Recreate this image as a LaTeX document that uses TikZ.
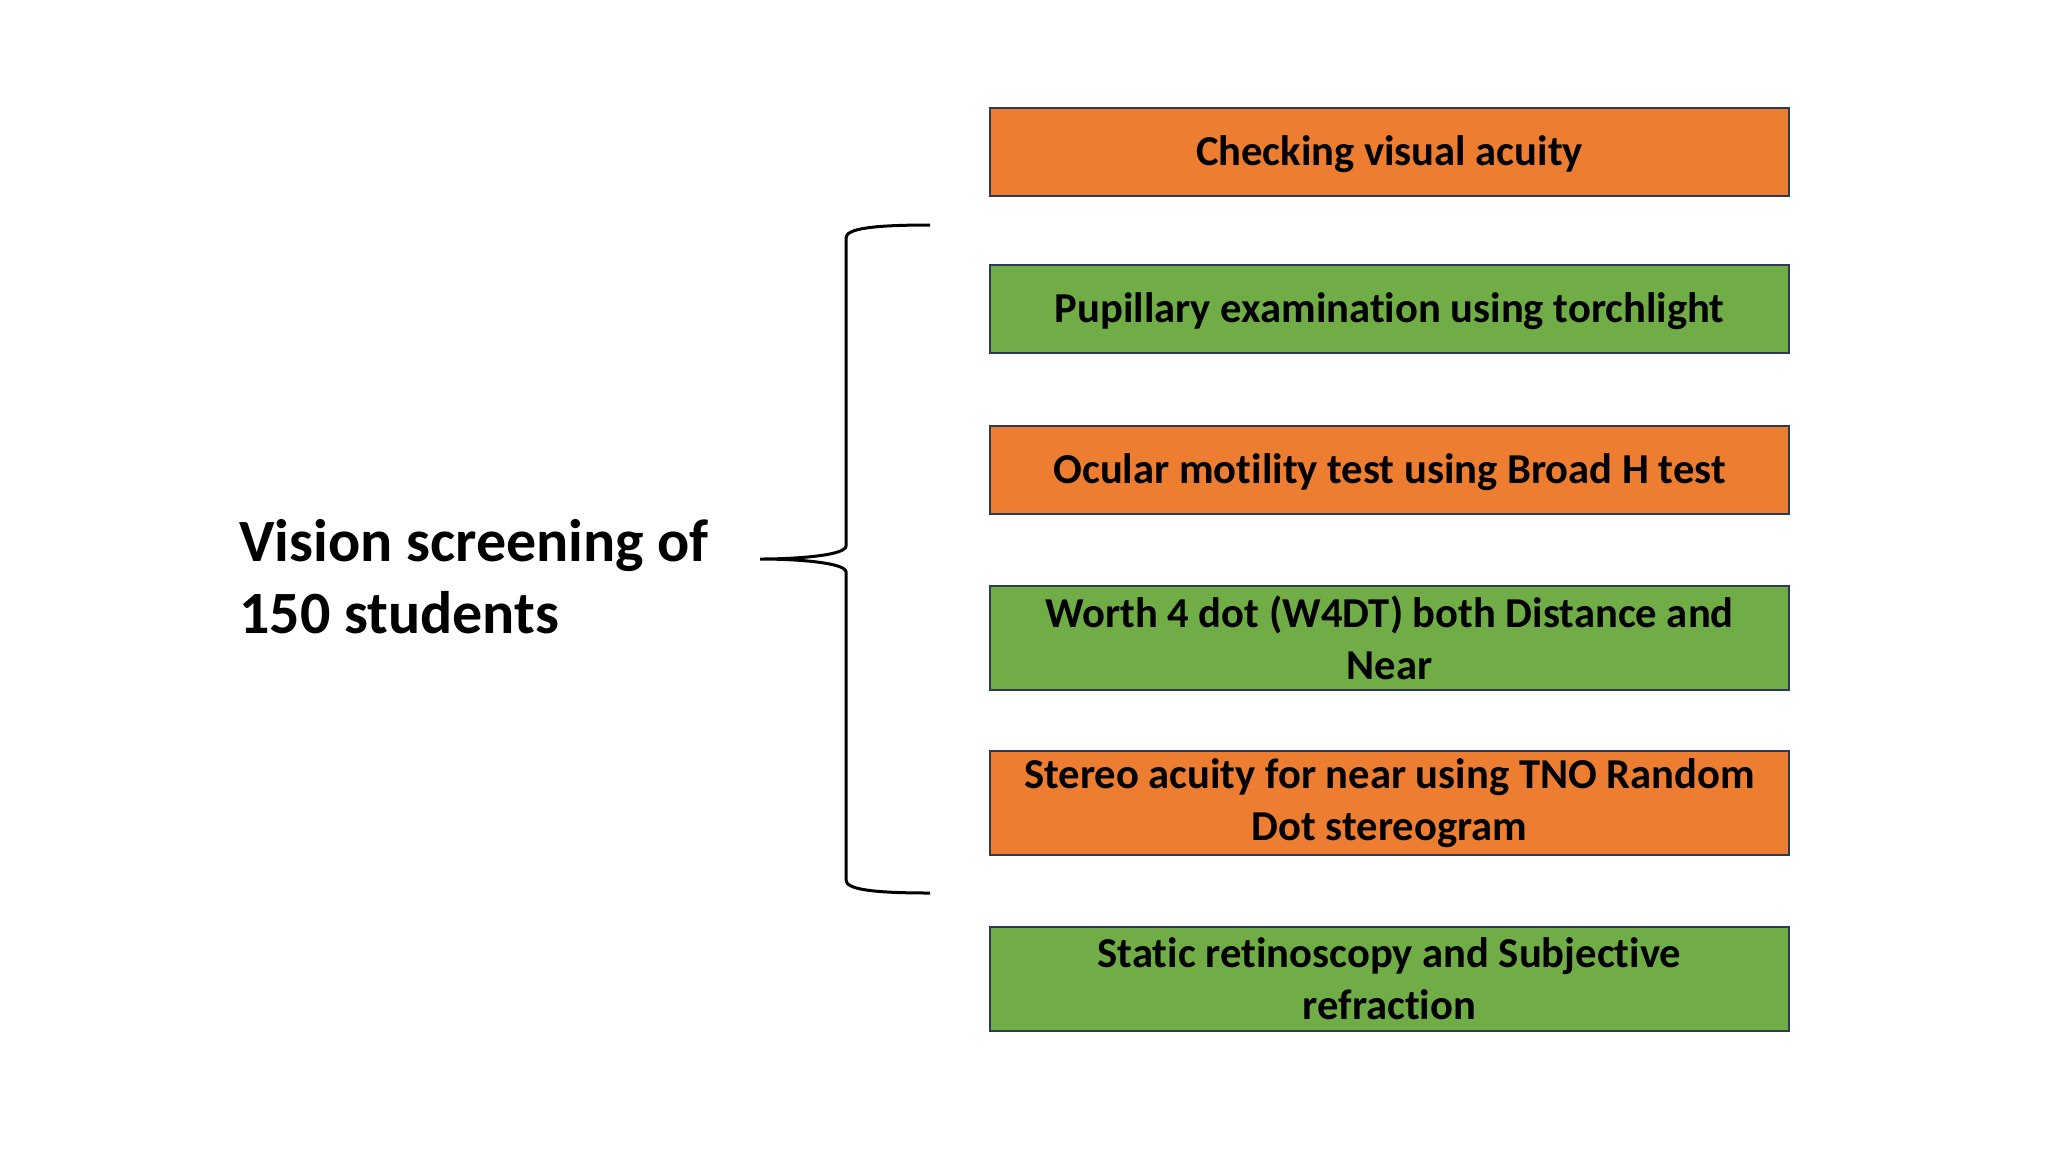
\documentclass[tikz,border=0pt]{standalone}
\usepackage{fontspec}
\setmainfont{Carlito}[Ligatures=NoCommon]
\definecolor{boxorange}{HTML}{ED7D31}
\definecolor{boxgreen}{HTML}{70AD47}
\definecolor{boxedge}{HTML}{2B3A55}
\begin{document}
\begin{tikzpicture}[x=0.5pt,y=-0.5pt,
  testbox/.style={draw=boxedge,line width=1pt,minimum width=399.5pt,inner sep=0pt,align=center,font=\fontsize{21.3}{26}\selectfont\bfseries,text=black},
  onebox/.style={testbox,minimum height=44pt,text depth=1pt},
  twobox/.style={testbox,minimum height=52pt},
  bracepath/.style={draw=black,line width=1.5pt}]
\useasboundingbox[fill=white] (0,0) rectangle (2048,1152);
\node[onebox,fill=boxorange] (b1) at (1389.5,152) {Checking visual acuity};
\node[onebox,fill=boxgreen] (b2) at (1389.5,309) {Pupillary examination using torchlight};
\node[onebox,fill=boxorange] (b3) at (1389.5,469.5) {Ocular motility test using Broad H test};
\node[twobox,fill=boxgreen] (b4) at (1389.5,638) {Worth 4 dot (W4DT) both Distance and\\Near};
\node[twobox,fill=boxorange] (b5) at (1389.5,803) {Stereo acuity for near using TNO Random\\Dot stereogram};
\node[twobox,fill=boxgreen] (b6) at (1389.5,979) {Static retinoscopy and Subjective\\refraction};
\node[anchor=base west,inner sep=0pt,align=left,font=\fontsize{30}{36}\selectfont\bfseries] (title) at (239,633) {Vision screening of\\150 students};
\coordinate (tip) at (760,559);
\coordinate (btop) at (930,225);
\coordinate (bbot) at (930,893);
\draw[bracepath] (btop) .. controls (870,225) and (846,229) .. (846,238) -- (846,546) .. controls (846,555) and (800,559) .. (tip)
  .. controls (800,559) and (846,563) .. (846,572) -- (846,880) .. controls (846,889) and (870,893) .. (bbot);
\end{tikzpicture}
\end{document}
